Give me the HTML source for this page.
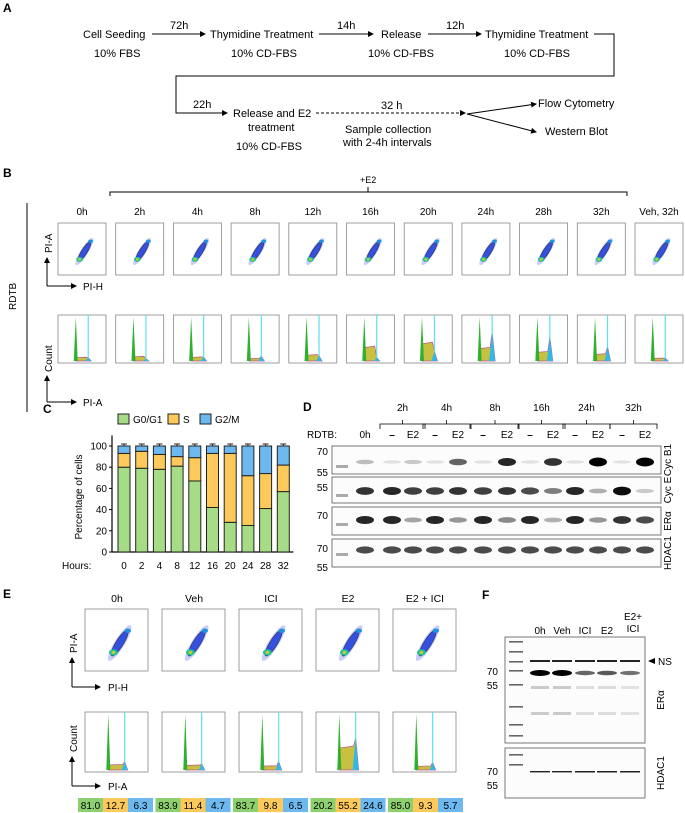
<!DOCTYPE html>
<html><head><meta charset="utf-8"><style>
body{margin:0;background:#fff}
svg{display:block;font-family:"Liberation Sans",Arial,sans-serif}
</style></head><body>
<svg id="fig" width="685" height="813" viewBox="0 0 685 813" xmlns="http://www.w3.org/2000/svg">
<defs>
<marker id="ah" markerWidth="6" markerHeight="6" refX="5" refY="3" orient="auto"><path d="M0,0 L6,3 L0,6 z" fill="#000"/></marker>
</defs>
<g font-size="11">
<text x="3" y="12" font-weight="bold" font-size="12">A</text>
<text x="83" y="38">Cell Seeding</text>
<text x="94" y="57">10% FBS</text>
<line x1="152" y1="34" x2="205" y2="34" stroke="#000" marker-end="url(#ah)"/>
<text x="170" y="29">72h</text>
<text x="210" y="38">Thymidine Treatment</text>
<text x="231" y="57">10% CD-FBS</text>
<line x1="319" y1="34" x2="373" y2="34" stroke="#000" marker-end="url(#ah)"/>
<text x="337" y="29">14h</text>
<text x="381" y="38">Release</text>
<text x="368" y="57">10% CD-FBS</text>
<line x1="428" y1="34" x2="481" y2="34" stroke="#000" marker-end="url(#ah)"/>
<text x="446" y="29">12h</text>
<text x="485" y="38">Thymidine Treatment</text>
<text x="504" y="57">10% CD-FBS</text>
<polyline points="594,34 614,34 614,76 176,76 176,113 227,113" fill="none" stroke="#000" marker-end="url(#ah)"/>
<text x="193" y="108">22h</text>
<text x="233" y="117">Release and E2</text>
<text x="248" y="131">treatment</text>
<text x="236" y="150">10% CD-FBS</text>
<line x1="316" y1="113" x2="465" y2="113" stroke="#000" stroke-dasharray="3,2" marker-end="url(#ah)"/>
<text x="381" y="109">32 h</text>
<text x="345" y="133">Sample collection</text>
<text x="343" y="146">with 2-4h intervals</text>
<line x1="467" y1="114" x2="536" y2="104" stroke="#000" marker-end="url(#ah)"/>
<line x1="467" y1="114" x2="536" y2="132" stroke="#000" marker-end="url(#ah)"/>
<text x="538" y="107">Flow Cytometry</text>
<text x="545" y="135">Western Blot</text>
</g>
<g font-size="10">
<text x="3" y="177" font-weight="bold" font-size="12">B</text>
<text x="360" y="183" font-size="9">+E2</text>
<polyline points="110,196 110,192 627,192 627,196" fill="none" stroke="#000"/>
<line x1="368" y1="192" x2="368" y2="187" stroke="#000"/>
<line x1="27" y1="203" x2="27" y2="412" stroke="#000"/>
<text transform="translate(16,310) rotate(-90)">RDTB</text>
<polyline points="47,286 47,258" fill="none" stroke="#000" marker-end="url(#ah)"/>
<line x1="47" y1="286" x2="76" y2="286" stroke="#000" marker-end="url(#ah)"/>
<text transform="translate(52,253) rotate(-90)">PI-A</text>
<text x="83" y="290">PI-H</text>
<polyline points="47,402 47,376" fill="none" stroke="#000" marker-end="url(#ah)"/>
<line x1="47" y1="402" x2="76" y2="402" stroke="#000" marker-end="url(#ah)"/>
<text transform="translate(52,372) rotate(-90)">Count</text>
<text x="83" y="406">PI-A</text>
<g id="bplots"></g>
</g>
<g font-size="10">
<text x="43" y="413" font-weight="bold" font-size="12">C</text>
<g id="cchart"></g>
</g>
<g font-size="10">
<text x="303" y="411" font-weight="bold" font-size="12">D</text>
<g id="dblot"></g>
</g>
<g font-size="10">
<text x="3" y="598" font-weight="bold" font-size="12">E</text>
<polyline points="72,687 72,658" fill="none" stroke="#000" marker-end="url(#ah)"/>
<line x1="72" y1="687" x2="100" y2="687" stroke="#000" marker-end="url(#ah)"/>
<text transform="translate(77,653) rotate(-90)">PI-A</text>
<text x="108" y="691">PI-H</text>
<polyline points="72,786 72,757" fill="none" stroke="#000" marker-end="url(#ah)"/>
<line x1="72" y1="786" x2="100" y2="786" stroke="#000" marker-end="url(#ah)"/>
<text transform="translate(77,752) rotate(-90)">Count</text>
<text x="108" y="790">PI-A</text>
<g id="eplots"></g>
</g>
<g font-size="10">
<text x="482" y="599" font-weight="bold" font-size="12">F</text>
<g id="fblot"></g>
</g>
</svg>
<script>
// ---- Panel C data ----
const hours = ["0","2","4","8","12","16","20","24","28","32"];
const g1Values = [80,79,78,81,67,42,28,25,41,57];
const sValues = [13,16,14,9,22,51,65,47,33,25];
const g2mValues = [7,5,8,10,11,7,7,28,26,18];
const yTicks = [0,20,40,60,80,100];

const NS="http://www.w3.org/2000/svg";
function el(tag,attrs,parent){const e=document.createElementNS(NS,tag);for(const k in attrs)e.setAttribute(k,attrs[k]);parent.appendChild(e);return e;}
function tx(str,attrs,parent){const e=el('text',attrs,parent);e.textContent=str;return e;}

// Panel C chart
(function(){
const g=document.getElementById('cchart');
const y0=552,yPer=1.06,x0=112,barW=12,step=17.7,first=118;
const yS=v=>y0-v*yPer;
const xS=i=>first+i*step;
let ax=el('line',{x1:x0,y1:yS(110),x2:x0,y2:y0,stroke:'#000','stroke-width':1.2},g);

let bx=el('line',{x1:x0,y1:y0,x2:xS(hours.length-1)+barW+4,y2:y0,stroke:'#000','stroke-width':1.2},g);

yTicks.forEach(v=>{el('line',{x1:x0-3,y1:yS(v),x2:x0,y2:yS(v),stroke:'#000'},g);
 const t=tx(String(v),{x:x0-5,y:yS(v)+3.5,'text-anchor':'end'},g);
 });
const yl=tx('Percentage of cells',{transform:'translate(82,497) rotate(-90)','text-anchor':'middle'},g);

const hl=tx('Hours:',{x:62,y:569},g);

const cols=['#a6dc85','#fdc95a','#6cb8ef'];
hours.forEach((h,i)=>{
 const x=xS(i);let base=0;
 [g1Values[i],sValues[i],g2mValues[i]].forEach((v,k)=>{
  const r=el('rect',{x:x,y:yS(base+v),width:barW,height:v*yPer,fill:cols[k],stroke:'#222','stroke-width':1},g);
  
  base+=v;
  const top=yS(base);el('line',{x1:x+barW/2,y1:top,x2:x+barW/2,y2:top-2,stroke:'#222'},g);
  el('line',{x1:x+barW/2-3,y1:top-2,x2:x+barW/2+3,y2:top-2,stroke:'#222'},g);
 });
 const t=tx(h,{x:x+barW/2,y:569,'text-anchor':'middle'},g);
 
});
const leg=[['G0/G1',118],['S',168],['G2/M',200]];
leg.forEach((l,k)=>{const r=el('rect',{x:l[1],y:414,width:11,height:10,fill:cols[k],stroke:'#222'},g);
 
 const t=tx(l[0],{x:l[1]+15,y:423},g);});
})();

function scatter(g,x,y,w,h){
 const b=el('rect',{x:x,y:y,width:w,height:h,fill:'#fff',stroke:'#888','stroke-width':0.8},g);
 
 const cx=x+w*0.55,cy=y+h*0.55;
 el('ellipse',{cx:cx,cy:cy,rx:w*0.33,ry:w*0.08,transform:`rotate(-58 ${cx} ${cy})`,fill:'#c8cdfa'},g);
 el('ellipse',{cx:cx,cy:cy,rx:w*0.24,ry:w*0.06,transform:`rotate(-58 ${cx} ${cy})`,fill:'#3450e0',stroke:'#333','stroke-width':0.6},g);
 el('ellipse',{cx:x+w*0.45,cy:y+h*0.7,rx:w*0.07,ry:w*0.05,fill:'#22c0a0'},g);
 el('ellipse',{cx:x+w*0.45,cy:y+h*0.7,rx:w*0.03,ry:w*0.025,fill:'#c8d020'},g);
 el('ellipse',{cx:x+w*0.68,cy:y+h*0.35,rx:w*0.05,ry:w*0.035,fill:'#2090e0'},g);
}
function hist(g,x,y,w,h,s,g2){
 const b=el('rect',{x:x,y:y,width:w,height:h,fill:'#fff',stroke:'#888','stroke-width':0.8},g);
 
 const bx=y+h-2,p1=x+w*0.37,p2=x+w*0.63;
 const sh=h*Math.min(0.9,s*0.55),gh=h*Math.min(0.9,g2);
 el('path',{d:`M${p1},${bx} L${p1},${bx-sh} L${p2-2},${bx-sh*1.1} L${p2},${bx-gh} L${p2+3},${bx} Z`,fill:'#c8c040',stroke:'#c05090','stroke-width':0.7},g);
 el('line',{x1:p2,y1:y,x2:p2,y2:bx,stroke:'#5ee0e8','stroke-width':1.2},g);
 el('path',{d:`M${p1-2},${bx} L${p1},${y+2} L${p1+2},${bx} Z`,fill:'#30b030'},g);
 el('path',{d:`M${p2-3},${bx} L${p2},${bx-gh} L${p2+3},${bx} Z`,fill:'#30b8e8'},g);
}

const bLabels=["0h","2h","4h","8h","12h","16h","20h","24h","28h","32h","Veh, 32h"];
const bS=[.13,.16,.14,.09,.22,.51,.65,.47,.33,.25,.1];
const bG2=[.07,.05,.08,.1,.11,.07,.2,.6,.5,.3,.06];
(function(){const g=document.getElementById('bplots');
bLabels.forEach((l,i)=>{const x=58+i*57.7;
 const t=tx(l,{x:x+24,y:215,'text-anchor':'middle'},g);
 scatter(g,x,223,48,52);hist(g,x,315,48,48,bS[i],bG2[i]);});})();

const eLabels=["0h","Veh","ICI","E2","E2 + ICI"];
const eG1=[81.0,83.9,83.7,20.2,85.0];
const eS=[12.7,11.4,9.8,55.2,9.3];
const eG2=[6.3,4.7,6.5,24.6,5.7];
(function(){const g=document.getElementById('eplots');
eLabels.forEach((l,i)=>{const x=85+i*77;
 const t=tx(l,{x:x+32,y:602,'text-anchor':'middle',"font-size":10.5},g);
 scatter(g,x,609,63,62);hist(g,x,712,63,60,eS[i]/100*1.2,eG2[i]/100*2.2);
 const gx=78+i*77.5;const vals=[eG1[i],eS[i],eG2[i]];const cc=['#8ed070','#fdc95a','#6cb8ef'];
 vals.forEach((v,k)=>{const r=el('rect',{x:gx+k*25,y:798,width:25,height:14,fill:cc[k]},g);
  
  const t2=tx(v.toFixed(1),{x:gx+k*25+12.5,y:809,'text-anchor':'middle'},g);});
});})();

const dLanes=[365,392,413,435,458,483,507,530,553,575,598,622,645];
const cycB1=[.25,.1,.2,.1,.6,.1,.85,.1,.8,.1,1,.05,1];
const cycE=[.8,.85,.75,.75,.8,.75,.8,.7,.5,.85,.3,.95,.2];
const erA=[.85,.85,.35,.85,.4,.85,.45,.85,.3,.85,.4,.8,.7];
const hdac=[.7,.7,.7,.7,.7,.7,.7,.7,.7,.7,.7,.7,.7];
(function(){const g=document.getElementById('dblot');
const groups=["2h","4h","8h","16h","24h","32h"];
groups.forEach((s,i)=>{const a=dLanes[1+2*i]-12,b=dLanes[2+2*i]+12,c=(a+b)/2;
 const t=tx(s,{x:c,y:411,'text-anchor':'middle'},g);
 el('polyline',{points:`${a},429 ${a},424 ${b},424 ${b},429`,fill:'none',stroke:'#000','stroke-width':0.8},g);
 el('line',{x1:c,y1:424,x2:c,y2:420,stroke:'#000','stroke-width':0.8},g);});
const r=tx('RDTB:',{x:307,y:438},g);
dLanes.forEach((x,i)=>{const s=i==0?'0h':(i%2?'–':'E2');const t=tx(s,{x:x,y:438,'text-anchor':'middle','font-weight':i%2&&i>0?'bold':'normal'},g);
 });
const rows=[['Cyc B1',446,474,cycB1,462,[[70,452],[55,473]]],['Cyc E',477,503,cycE,491,[[55,488]]],['ERα',507,535,erA,520,[[70,516]]],['HDAC1',539,567,hdac,550,[[70,549],[55,568]]]];
rows.forEach(rw=>{const b=el('rect',{x:332,y:rw[1],width:329,height:rw[2]-rw[1],fill:'#fcfcfc',stroke:'#555','stroke-width':0.8},g);
 
 el('rect',{x:336,y:rw[4]+3,width:12,height:3,fill:'#aaa'},g);
 rw[3].forEach((v,i)=>{const e=el('ellipse',{cx:dLanes[i],cy:rw[4],rx:9,ry:1.5+v*3,fill:'#000','fill-opacity':Math.max(.1,v)},g);
  });
 rw[5].forEach(m=>{const t=tx(String(m[0]),{x:328,y:m[1]+3,'text-anchor':'end'},g);});
 const t=tx(rw[0],{transform:`translate(671,${(rw[1]+rw[2])/2}) rotate(-90)`,'text-anchor':'middle'},g);
 });
})();

const fLanes=[540,562,585,607,630];
const fNS=[.8,.8,.8,.8,.8];
const fER=[1,1,.6,.65,.55];
const fHD=[.7,.7,.75,.75,.75];
(function(){const g=document.getElementById('fblot');
['0h','Veh','ICI','E2'].forEach((s,i)=>{const t=tx(s,{x:fLanes[i],y:634,'text-anchor':'middle'},g);});
let t=tx('E2+',{x:633,y:620,'text-anchor':'middle'},g);
t=tx('ICI',{x:633,y:632,'text-anchor':'middle'},g);
let b=el('rect',{x:505,y:637,width:140,height:106,fill:'#fcfcfc',stroke:'#555','stroke-width':0.8},g);

b=el('rect',{x:505,y:748,width:140,height:50,fill:'#fcfcfc',stroke:'#555','stroke-width':0.8},g);

[641,651,661,670,684,706,724,735,754,764].forEach(y=>el('rect',{x:509,y:y,width:14,height:1.6,fill:'#666'},g));
fLanes.forEach((x,i)=>{
 let e=el('rect',{x:x-10,y:660,width:20,height:2.5*fNS[i],fill:'#222'},g);
 e=el('ellipse',{cx:x,cy:673,rx:10,ry:1+fER[i]*2,fill:'#000','fill-opacity':fER[i]},g);
 el('rect',{x:x-9,y:686,width:18,height:3,fill:'#999','fill-opacity':fER[i]*0.5},g);
 el('rect',{x:x-9,y:712,width:18,height:3,fill:'#999','fill-opacity':fER[i]*0.5},g);
 e=el('rect',{x:x-10,y:771,width:20,height:2*fHD[i],fill:'#222'},g);});
[['70',672],['55',686],['70',772],['55',786]].forEach(m=>{const t2=tx(m[0],{x:498,y:m[1]+3,'text-anchor':'end'},g);});
el('path',{d:'M648,661 L655,658 L655,664 z',fill:'#000'},g);
t=tx('NS',{x:658,y:665},g);
t=tx('ERα',{transform:'translate(664,700) rotate(-90)','text-anchor':'middle'},g);
t=tx('HDAC1',{transform:'translate(664,773) rotate(-90)','text-anchor':'middle'},g);
})();
</script>
</body></html>
